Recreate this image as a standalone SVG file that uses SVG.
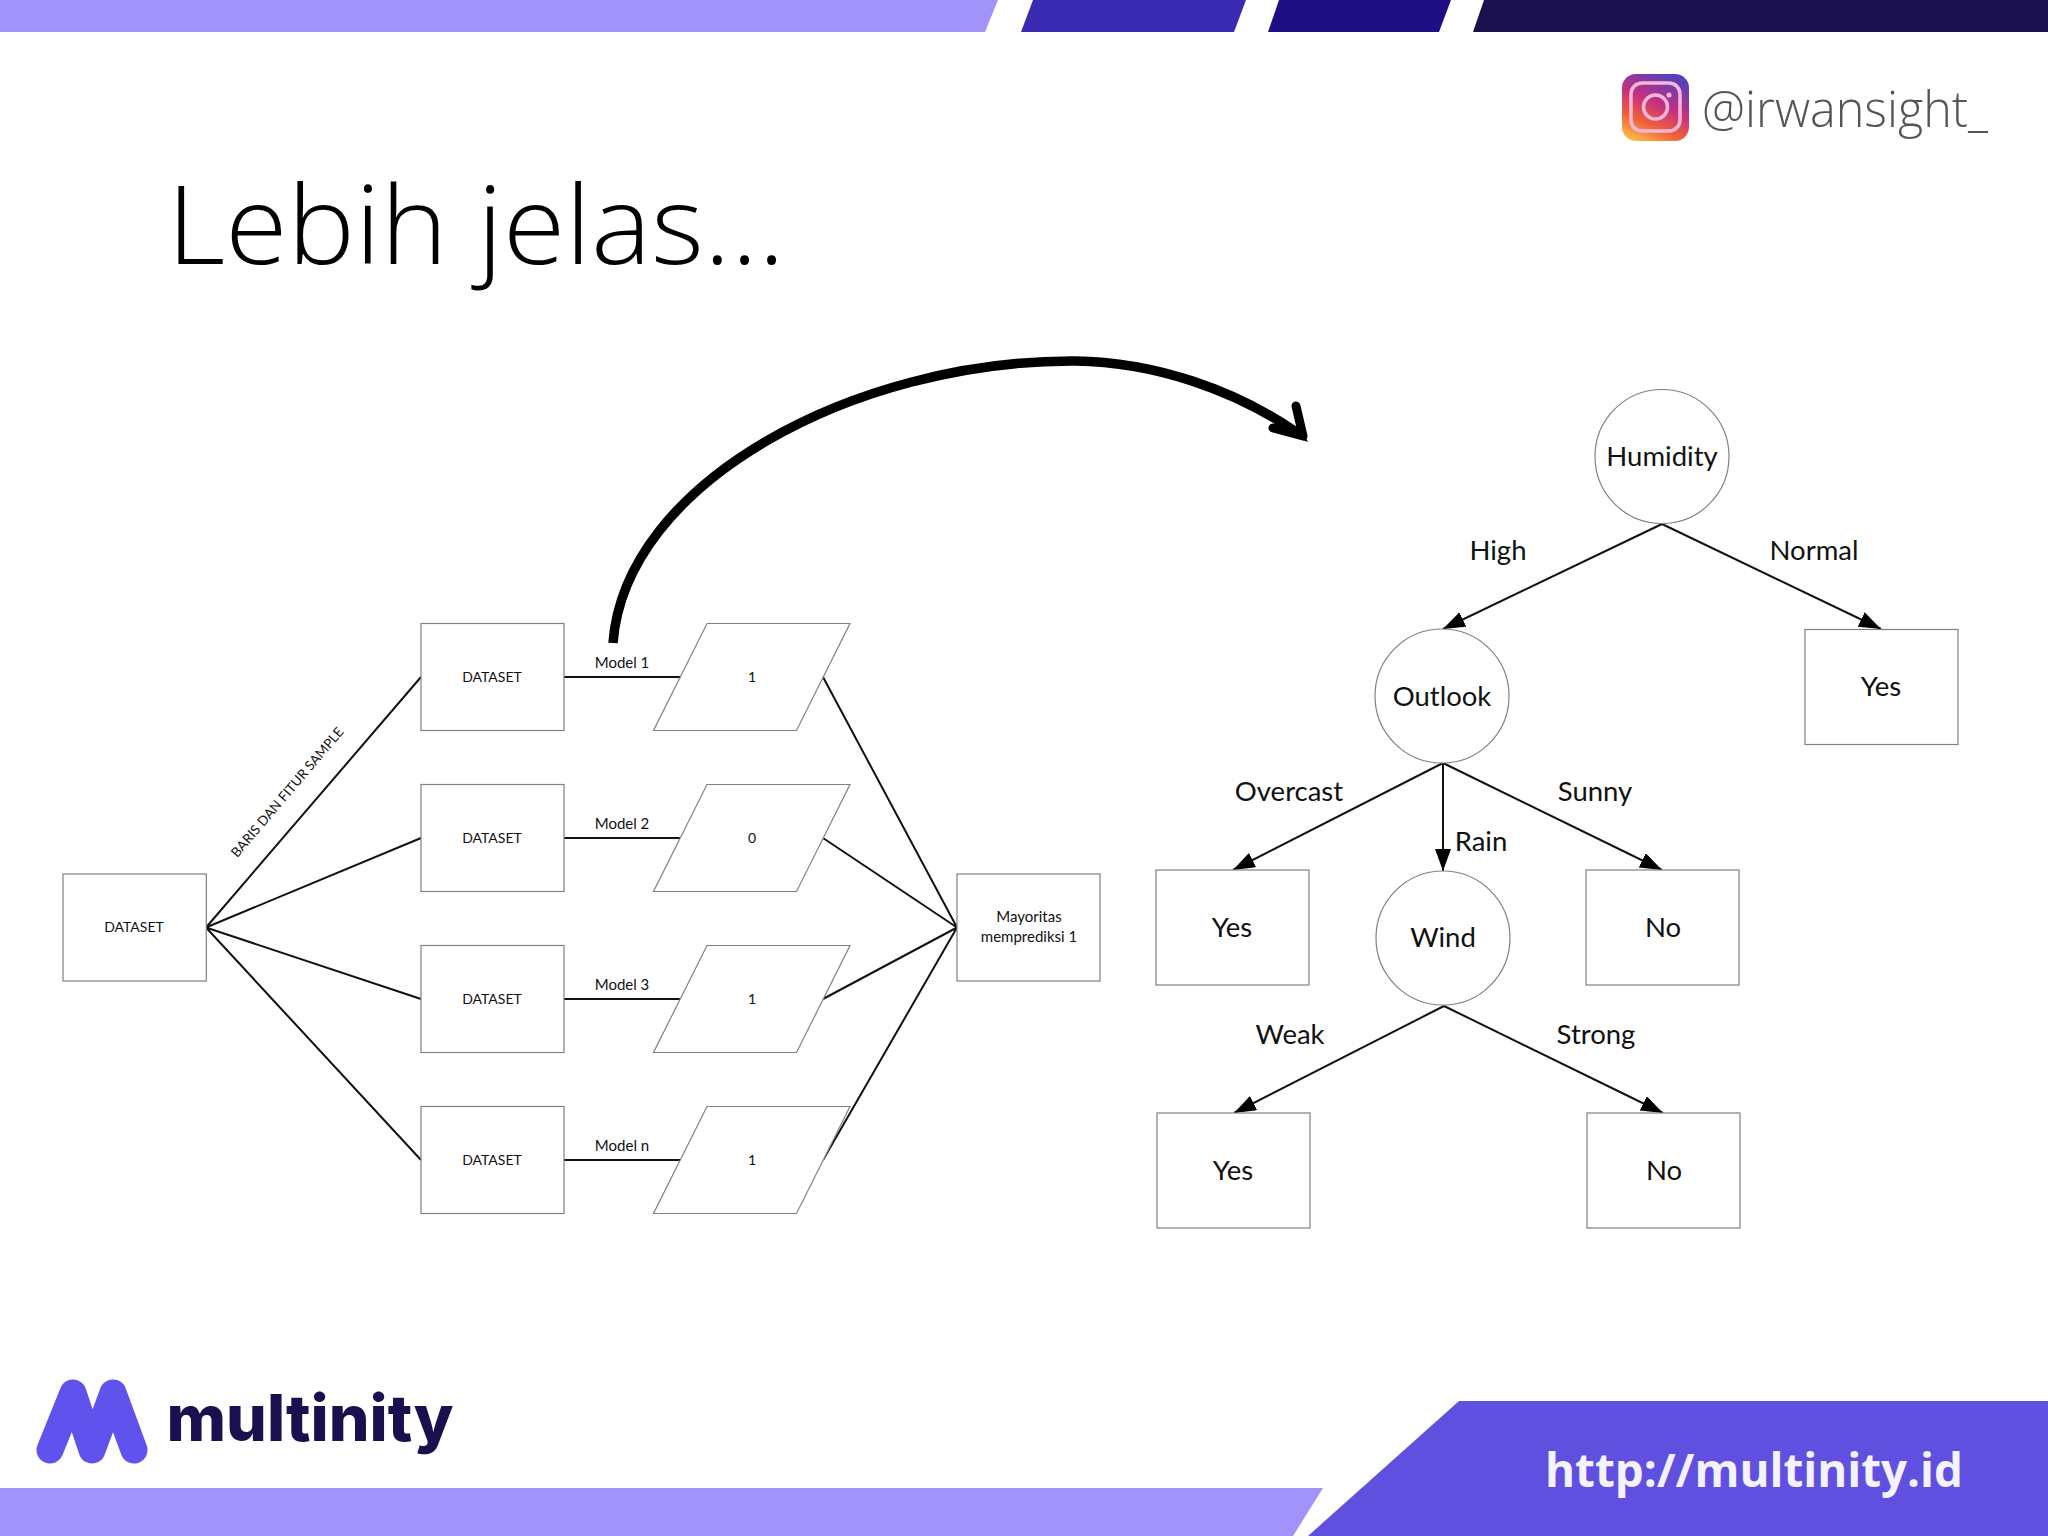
<svg xmlns="http://www.w3.org/2000/svg" width="2048" height="1536" viewBox="0 0 2048 1536">
<style>
.n{fill:#fff;stroke:#808080;stroke-width:1.2}
.l{fill:none;stroke:#111;stroke-width:2}
.a{fill:none;stroke:#111;stroke-width:2;marker-end:url(#ah)}
text{font-family:"Lato","Liberation Sans",sans-serif;fill:#111;text-anchor:middle;font-variant-ligatures:none}
.s{font-size:14px}
.m{font-size:15px}
.t{font-size:27.5px}
.b{font-family:"Open Sans","Liberation Sans",sans-serif}
</style>
<defs>
<marker id="ah" markerUnits="userSpaceOnUse" markerWidth="24" markerHeight="20" refX="22" refY="8" orient="auto"><path d="M0 0L22 8L0 16Z" fill="#000"/></marker>
<linearGradient id="ig" x1="0.15" y1="1" x2="0.6" y2="0"><stop offset="0" stop-color="#fdc04a"/><stop offset="0.3" stop-color="#f0603a"/><stop offset="0.6" stop-color="#c8307f"/><stop offset="1" stop-color="#5a3fb8"/></linearGradient>
</defs>
<rect width="2048" height="1536" fill="#fff"/>
<g id="chrome">
<path d="M0 0H998L985 32H0Z" fill="#a293fb"/>
<path d="M1033 0H1246L1234 32H1021Z" fill="#3b2bb3"/>
<path d="M1279 0H1451L1439 32H1268Z" fill="#1f0f85"/>
<path d="M1484 0H2048V32H1473Z" fill="#1a1050"/>
<path d="M0 1488H1323L1293 1536H0Z" fill="#a293fb"/>
<path d="M1459 1401H2048V1536H1308Z" fill="#6050e0"/>
<text class="b" x="1754" y="1487" style="font-size:46px;font-weight:700;fill:#f4f2ff" textLength="418" lengthAdjust="spacingAndGlyphs">http://multinity.id</text>
<path d="M50 1450L73 1393L92 1450L113 1393L134 1450" fill="none" stroke="#6052ec" stroke-width="27" stroke-linecap="round" stroke-linejoin="round"/>
<text x="310" y="1441" style="font-family:Inter,'Liberation Sans',sans-serif;font-size:64px;font-weight:800;fill:#1a1050" textLength="287" lengthAdjust="spacingAndGlyphs">multinity</text>
<rect x="1622" y="74" width="67" height="67" rx="14" fill="url(#ig)"/>
<rect x="1631" y="83" width="49" height="48" rx="11" fill="none" stroke="#f6b6d8" stroke-width="3.5"/>
<circle cx="1655.500" cy="107" r="12" fill="none" stroke="#f6b6d8" stroke-width="3.5"/>
<circle cx="1669" cy="95" r="2.500" fill="#f6b6d8"/>
<text class="b" x="1845" y="127" style="font-size:50px;font-weight:300;fill:#555" textLength="286" lengthAdjust="spacingAndGlyphs">@irwansight_</text>
<text class="b" x="476" y="264" style="font-size:108px;font-weight:300;fill:#000" textLength="618" lengthAdjust="spacingAndGlyphs">Lebih jelas...</text>
</g>
<g id="connectors">
<path class="l" d="M206 927.500L421 677M206 927.500L421 838M206 927.500L421 999M206 927.500L421 1160"/>
<path class="l" d="M564 677H680M564 838H680M564 999H680M564 1160H680"/>
<path class="l" d="M823 677L957 927.500M823 838L957 927.500M823 999L957 927.500M823 1160L957 927.500"/>
<path class="a" d="M1662 524L1443 629"/>
<path class="a" d="M1662 524L1881 629"/>
<path class="a" d="M1443 763L1233 870"/>
<path class="a" d="M1443 763V871"/>
<path class="a" d="M1443 763L1662 870"/>
<path class="a" d="M1444 1006L1234 1113"/>
<path class="a" d="M1444 1006L1663 1113"/>
<path d="M613 643C625 482 855 360 1075 361C1155 362 1235 390 1296 432" fill="none" stroke="#000" stroke-width="9.500"/>
<path d="M1296 406L1303 436L1273 428" fill="none" stroke="#000" stroke-width="9" stroke-linecap="round" stroke-linejoin="round"/>
<path d="M1299 424L1308 442L1285 434Z" fill="#000"/>
</g>
<g id="src"><rect class="n" x="63" y="874" width="143.300" height="107"/><text class="s" x="134" y="932">DATASET</text></g>
<g id="ds1"><rect class="n" x="421" y="623.500" width="143" height="107"/><text class="s" x="492" y="681.500">DATASET</text></g>
<g id="ds2"><rect class="n" x="421" y="784.500" width="143" height="107"/><text class="s" x="492" y="842.500">DATASET</text></g>
<g id="ds3"><rect class="n" x="421" y="945.500" width="143" height="107"/><text class="s" x="492" y="1003.500">DATASET</text></g>
<g id="ds4"><rect class="n" x="421" y="1106.500" width="143" height="107"/><text class="s" x="492" y="1164.500">DATASET</text></g>
<g id="m1"><path class="n" d="M707 623.500H850L796.500 730.500H653.500Z"/><text class="s" x="752" y="681.500">1</text></g>
<g id="m2"><path class="n" d="M707 784.500H850L796.500 891.500H653.500Z"/><text class="s" x="752" y="842.500">0</text></g>
<g id="m3"><path class="n" d="M707 945.500H850L796.500 1052.500H653.500Z"/><text class="s" x="752" y="1003.500">1</text></g>
<g id="m4"><path class="n" d="M707 1106.500H850L796.500 1213.500H653.500Z"/><text class="s" x="752" y="1164.500">1</text></g>
<g id="major"><rect class="n" x="957" y="874" width="143" height="107"/><text class="m" x="1029" y="922">Mayoritas</text><text class="m" x="1029" y="942">memprediksi 1</text></g>
<g id="edge-labels">
<text class="m" x="622" y="668">Model 1</text><text class="m" x="622" y="829">Model 2</text><text class="m" x="622" y="990">Model 3</text><text class="m" x="622" y="1151">Model n</text>
<text x="287" y="797" style="font-size:13.400px" transform="rotate(-49.600 287 792)">BARIS DAN FITUR SAMPLE</text>
</g>
<g id="humidity"><circle class="n" cx="1662" cy="456.500" r="67"/><text class="t" x="1662" y="466">Humidity</text></g>
<g id="outlook"><circle class="n" cx="1442" cy="696" r="67"/><text class="t" x="1442" y="706">Outlook</text></g>
<g id="wind"><circle class="n" cx="1443" cy="938" r="67"/><text class="t" x="1443" y="947">Wind</text></g>
<g id="yes1"><rect class="n" x="1805" y="629.500" width="153" height="115"/><text class="t" x="1881" y="696">Yes</text></g>
<g id="yes2"><rect class="n" x="1156" y="870" width="153" height="115"/><text class="t" x="1232" y="937">Yes</text></g>
<g id="no1"><rect class="n" x="1586" y="870" width="153" height="115"/><text class="t" x="1663" y="937">No</text></g>
<g id="yes3"><rect class="n" x="1157" y="1113" width="153" height="115"/><text class="t" x="1233" y="1180">Yes</text></g>
<g id="no2"><rect class="n" x="1587" y="1113" width="153" height="115"/><text class="t" x="1664" y="1180">No</text></g>
<g id="tree-labels" class="t">
<text x="1498" y="560">High</text><text x="1814" y="560">Normal</text>
<text x="1289" y="801">Overcast</text><text x="1595" y="801">Sunny</text><text x="1481" y="851">Rain</text>
<text x="1290" y="1044">Weak</text><text x="1596" y="1044">Strong</text>
</g>
</svg>
